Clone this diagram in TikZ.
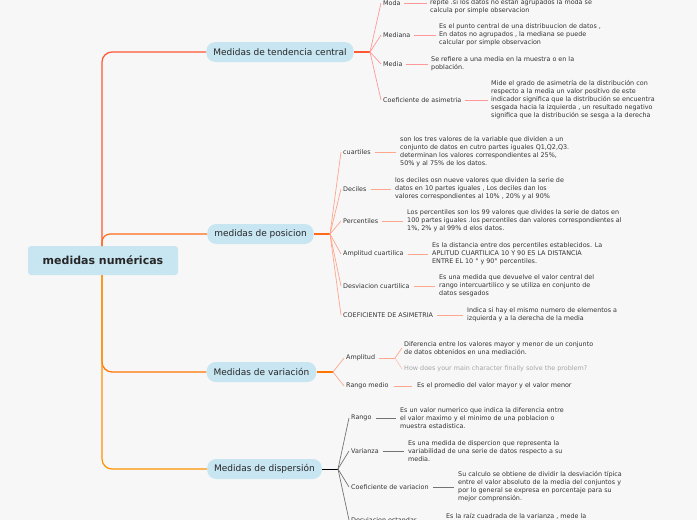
\documentclass[tikz,border=0pt]{standalone}
\usepackage{fontspec}
\setmainfont{DejaVu Sans}
\definecolor{bfill}{HTML}{C8E6F2}
\begin{document}
\begin{tikzpicture}[x=1pt,y=-1pt,
 leaf/.style={anchor=west,inner sep=0pt,font=\fontsize{6.4}{8}\selectfont,text=black!80},
 desc/.style={anchor=west,inner sep=0pt,align=left,font=\fontsize{6.4}{8}\selectfont,text=black!80},
 branch/.style={fill=bfill,rounded corners=9pt,minimum height=20pt,inner xsep=7pt,font=\fontsize{9}{10}\selectfont,text=black!85},
 c1/.style={draw=red!65!orange!80,line width=1.2pt},
 c2/.style={draw=orange!70!red!90,line width=1.2pt},
 c3/.style={draw=orange!90!red,line width=1.2pt},
 c4/.style={draw=orange!85!yellow,line width=1.2pt},
 l1/.style={draw=red!40!white,line width=0.7pt},
 l2/.style={draw=orange!45!red!45!white,line width=0.7pt},
 l4/.style={draw=black!55,line width=0.7pt}]
\fill[black!3] (0,0) rectangle (697,520);
\useasboundingbox (0,0) rectangle (697,520);
% central
\node[fill=bfill,rounded corners=3pt,minimum width=150pt,minimum height=29pt,font=\fontsize{11}{12}\bfseries\selectfont,text=black!85] (root) at (103,260.5) {medidas numéricas};
% branches
\node[branch] (b1) at (280,52) {Medidas de tendencia central};
\node[branch] (b2) at (260.5,234) {medidas de posicion};
\node[branch] (b3) at (261.5,372) {Medidas de variación};
\node[branch] (b4) at (264.5,469) {Medidas de dispersión};
\draw[c1,rounded corners=10pt] (102,246) -- (102,52) -- (b1.west);
\draw[c2,rounded corners=8pt] (102,246) -- (102,234) -- (b2.west);
\draw[c3,rounded corners=10pt] (102,275) -- (102,372) -- (b3.west);
\draw[c4,rounded corners=10pt] (102,275) -- (102,469) -- (b4.west);
% tendencia central
\coordinate (p1) at (370,52);
\draw[c1,line width=1.6pt] (b1.east) -- (p1);
\node[leaf] (m1) at (383,3) {Moda};
\node[leaf] (m2) at (383,35) {Mediana};
\node[leaf] (m3) at (383,64) {Media};
\node[leaf] (m4) at (383,100) {Coeficiente de asimetria};
\foreach \n in {m1,m2,m3,m4} \draw[l1] (p1) -- ([xshift=-2pt]\n.west);
\node[desc] (d1) at (430,7) {repite .si los datos no estan agrupados  la moda se\\calcula por simple observacion};
\node[desc] (d2) at (439,35) {Es el punto central  de una distribuucion de datos ,\\En datos no agrupados , la mediana se puede\\calcular por simple observacion};
\node[desc] (d3) at (431,64) {Se refiere a una media en la muestra  o en la\\población.};
\node[desc] (d4) at (491,100) {Mide el grado de asimetría  de la distribución con\\respecto a la media  un valor positivo de este\\indicador significa que la distribución se encuentra\\sesgada  hacia la izquierda , un resultado negativo\\significa que la distribución  se sesga a la derecha};
\draw[l1] ([xshift=3pt]m1.east) -- ([xshift=-3pt]m1.east -| d1.west);
\draw[l1] ([xshift=3pt]m2.east) -- ([xshift=-3pt]m2.east -| d2.west);
\draw[l1] ([xshift=3pt]m3.east) -- ([xshift=-3pt]m3.east -| d3.west);
\draw[l1] ([xshift=3pt]m4.east) -- ([xshift=-3pt]d4.west);
% posicion
\coordinate (p2) at (330,234);
\draw[c2,line width=1.6pt] (b2.east) -- (p2);
\node[leaf] (n1) at (343,152) {cuartiles};
\node[leaf] (n2) at (343,189) {Deciles};
\node[leaf] (n3) at (343,221) {Percentiles};
\node[leaf] (n4) at (343,254) {Amplitud cuartilica};
\node[leaf] (n5) at (343,286) {Desviacion cuartilica};
\node[leaf] (n6) at (343,315) {COEFICIENTE DE ASIMETRIA};
\foreach \n in {n1,n2,n3,n4,n5,n6} \draw[l2] (p2) -- ([xshift=-2pt]\n.west);
\node[desc] (e1) at (400,152) {son los tres valores de la variable  que dividen a un\\conjunto de datos en cutro partes iguales Q1,Q2,Q3.\\determinan los valores correspondientes al 25\%,\\50\% y al 75\% de los datos.};
\node[desc] (e2) at (395,189) {los deciles osn nueve valores  que dividen la serie de\\datos en 10 partes iguales , Los deciles dan los\\valores  correspondientes al 10\% , 20\% y al 90\%};
\node[desc] (e3) at (407,221) {Los percentiles son los 99 valores que divides la serie de datos en\\100 partes iguales .los percentiles dan  valores correspondientes al\\1\%, 2\% y al 99\% d elos datos.};
\node[desc] (e4) at (432,254) {Es la distancia entre dos percentiles establecidos. La\\APLITUD CUARTILICA 10 Y 90  ES LA DISTANCIA\\ENTRE EL 10 ° y 90° percentiles.};
\node[desc] (e5) at (439,286) {Es una medida que devuelve  el valor central del\\rango intercuartilico  y se utiliza en conjunto de\\datos sesgados};
\node[desc] (e6) at (467,315) {Indica si hay el mismo numero de elementos a\\izquierda y a la derecha de la media};
\foreach \a/\b in {n1/e1,n2/e2,n3/e3,n4/e4,n5/e5,n6/e6} \draw[l2] ([xshift=4pt]\a.east) -- ([xshift=-4pt]\b.west);
% variacion
\coordinate (p3) at (333,372);
\draw[c3,line width=1.6pt] (b3.east) -- (p3);
\node[leaf] (v1) at (346,358) {Amplitud};
\node[leaf] (v2) at (346,386) {Rango medio};
\foreach \n in {v1,v2} \draw[l2] (p3) -- ([xshift=-2pt]\n.west);
\coordinate (q3) at (395,358);
\draw[l2,line width=1pt] ([xshift=4pt]v1.east) -- (q3);
\node[desc] (f1) at (404,348) {Diferencia entre los valores  mayor y menor  de un conjunto\\de datos obtenidos en una mediación.};
\node[desc,text=black!35] (f2) at (404,369) {How does your main character finally solve the problem?};
\draw[l2] (q3) -- ([xshift=-2pt]f1.west);
\draw[l2,draw=orange!25!red!25!white] (q3) -- ([xshift=-2pt]f2.west);
\node[desc] (f3) at (417,386) {Es el promedio del valor  mayor y el valor menor};
\draw[l2] ([xshift=5pt]v2.east) -- ([xshift=-5pt]f3.west);
% dispersion
\coordinate (p4) at (338,469);
\draw[black,line width=0.9pt] (b4.east) -- (p4);
\node[leaf] (w1) at (351,418) {Rango};
\node[leaf] (w2) at (351,451) {Varianza};
\node[leaf] (w3) at (351,487) {Coeficiente de variacion};
\node[leaf] (w4) at (351,520) {Desviacion estandar};
\foreach \n in {w1,w2,w3,w4} \draw[l4] (p4) -- ([xshift=-2pt]\n.west);
\node[desc] (g1) at (400,418) {Es un valor numerico que indica la diferencia entre\\el  valor maximo  y el minimo de una poblacion  o\\muestra estadistica.};
\node[desc] (g2) at (408,451) {Es una medida de dispercion  que representa la\\variabilidad de una serie de datos respecto a su\\media.};
\node[desc] (g3) at (458,487) {Su calculo se obtiene de dividir la desviación típica\\entre el valor absoluto de la media del conjuntos y\\por lo general se expresa en porcentaje  para su\\mejor comprensión.};
\node[desc] (g4) at (446,521) {Es la raíz cuadrada de la varianza , mede la\\dispersión};
\foreach \a/\b in {w1/g1,w2/g2,w3/g3,w4/g4} \draw[l4] ([xshift=4pt]\a.east) -- ([xshift=-4pt]\a.east -| \b.west);
\end{tikzpicture}
\end{document}
